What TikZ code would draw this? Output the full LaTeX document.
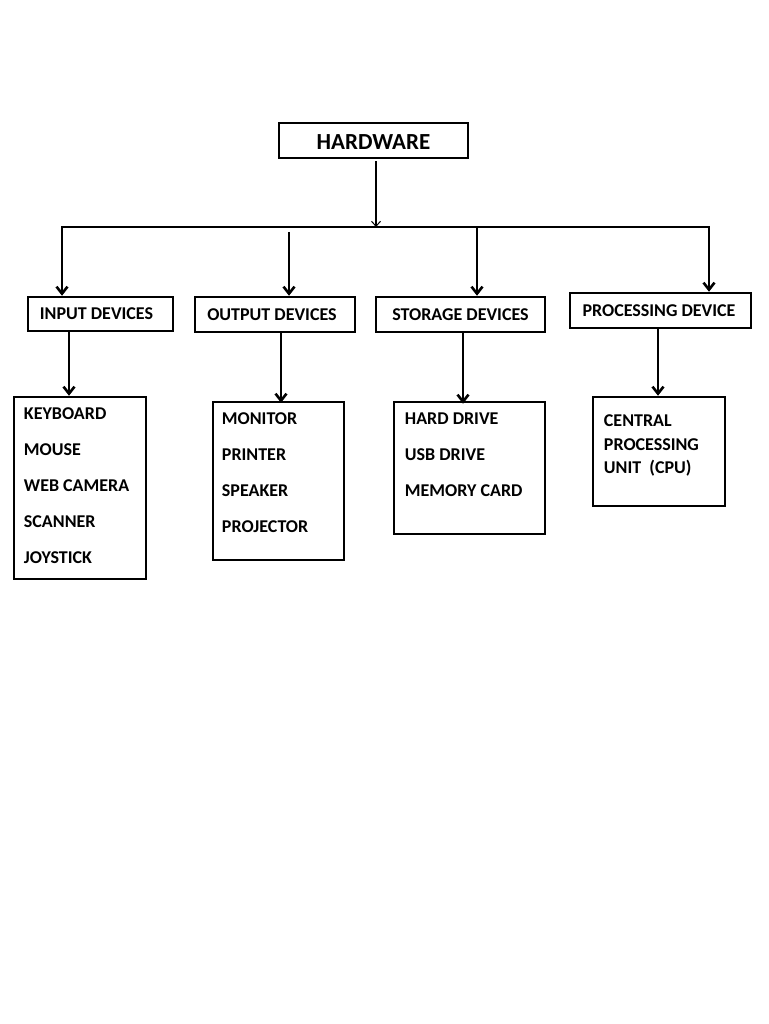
\documentclass[tikz,border=0pt]{standalone}
\usepackage{fontspec}
\setmainfont{Carlito}
\usetikzlibrary{arrows.meta}
\begin{document}
\begin{tikzpicture}[x=1pt,y=-1pt,
  box/.style={draw, line width=2.5pt, inner sep=0pt, font=\bfseries\fontsize{18}{21}\selectfont},
  listtext/.style={anchor=north west, inner sep=0pt, align=left, font=\bfseries\fontsize{18}{36}\selectfont},
  conn/.style={line width=2.7pt, -{Straight Barb[length=7pt,width=11pt,line width=2.6pt]}},
  thinconn/.style={line width=1.1pt, -{Straight Barb[length=5pt,width=9pt,line width=1pt]}}]
\useasboundingbox (0,0) rectangle (768,1024);
\fill[white] (0,0) rectangle (768,1024);

% top
\node[box, minimum width=189pt, minimum height=35pt, font=\bfseries\fontsize{23}{26}\selectfont, text depth=0pt, text height=15pt] (hw) at (373.5,140.5) {\raisebox{-2pt}{HARDWARE}};

% category boxes
\node[box, minimum width=145pt, minimum height=34pt] (in) at (100.5,314) {\hspace*{-8pt}INPUT DEVICES};
\node[box, minimum width=160pt, minimum height=35pt] (out) at (275,314.5) {\hspace*{-6pt}OUTPUT DEVICES};
\node[box, minimum width=169pt, minimum height=35pt] (sto) at (460.5,314.5) {STORAGE DEVICES};
\node[box, minimum width=181pt, minimum height=35pt] (proc) at (660.5,310.5) {\hspace*{-3pt}PROCESSING DEVICE};

% bus
\coordinate (busL) at (62,227);
\coordinate (busM) at (376,227);
\coordinate (busR) at (709,227);
\coordinate (busO) at (289,232);
\coordinate (busS) at (477,227);
\draw[thinconn] (hw.south -| busM) ++(0,2) -- (busM);
\draw[conn] (busS) -- (busL) -- (busL |- in.north);
\draw[conn] (busS) -- (busR) -- (busR |- proc.north);
\draw[conn] (busO) -- (busO |- out.north);
\draw[conn] (busS) -- (busS |- sto.north);

% list boxes
\node[box, minimum width=132pt, minimum height=182pt] (inl) at (80,488) {};
\node[box, minimum width=131pt, minimum height=158pt] (outl) at (278.5,481) {};
\node[box, minimum width=151pt, minimum height=132pt] (stol) at (469.5,468) {};
\node[box, minimum width=132pt, minimum height=109pt] (cpul) at (659,451.5) {};

\node[listtext] (inlt) at ([shift={(11,12)}]inl.north west) {KEYBOARD\\MOUSE\\WEB CAMERA\\SCANNER\\JOYSTICK};
\node[listtext] (outlt) at ([shift={(10,12)}]outl.north west) {MONITOR\\PRINTER\\SPEAKER\\PROJECTOR};
\node[listtext] (stolt) at ([shift={(12,12)}]stol.north west) {HARD DRIVE\\USB DRIVE\\MEMORY CARD};
\node[listtext, font=\bfseries\fontsize{18}{23.5}\selectfont] (cpult) at ([shift={(12,19)}]cpul.north west) {CENTRAL\\PROCESSING\\UNIT~ (CPU)};

% lower arrows
\coordinate (a1) at (69,0);
\coordinate (a2) at (281,0);
\coordinate (a3) at (463,0);
\coordinate (a4) at (658,0);
\draw[conn] (a1 |- in.south) -- (a1 |- inl.north);
\draw[conn] (a2 |- out.south) -- ([yshift=-2pt]a2 |- outl.north);
\draw[conn] (a3 |- sto.south) -- ([yshift=-3pt]a3 |- stol.north);
\draw[conn] (a4 |- proc.south) -- (a4 |- cpul.north);
\end{tikzpicture}
\end{document}
